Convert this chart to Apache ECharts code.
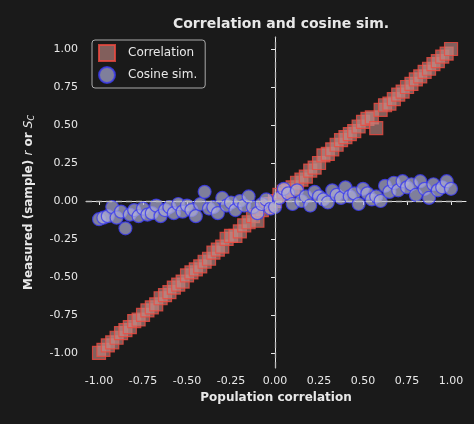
<!DOCTYPE html>
<html>
<head>
<meta charset="utf-8">
<script src="https://cdn.jsdelivr.net/npm/echarts@6/dist/echarts.min.js"></script>
<style>html,body{margin:0;background:#1a1a1a}#main{width:474px;height:424px}</style>
</head>
<body>
<div id="main"></div>
<script>
const popCorr = [
  -1.000,-0.975,-0.950,-0.925,-0.900,-0.875,-0.850,-0.825,-0.800,-0.775,
  -0.750,-0.725,-0.700,-0.675,-0.650,-0.625,-0.600,-0.575,-0.550,-0.525,
  -0.500,-0.475,-0.450,-0.425,-0.400,-0.375,-0.350,-0.325,-0.300,-0.275,
  -0.250,-0.225,-0.200,-0.175,-0.150,-0.125,-0.100,-0.075,-0.050,-0.025,
  0.000,0.025,0.050,0.075,0.100,0.125,0.150,0.175,0.200,0.225,
  0.250,0.275,0.300,0.325,0.350,0.375,0.400,0.425,0.450,0.475,
  0.500,0.525,0.550,0.575,0.600,0.625,0.650,0.675,0.700,0.725,
  0.750,0.775,0.800,0.825,0.850,0.875,0.900,0.925,0.950,0.975,
  1.000
];
const corrValues = [
  -1.00,-0.98,-0.95,-0.93,-0.90,-0.87,-0.85,-0.83,-0.79,-0.78,
  -0.75,-0.72,-0.70,-0.68,-0.64,-0.62,-0.60,-0.57,-0.55,-0.53,
  -0.49,-0.47,-0.45,-0.43,-0.40,-0.38,-0.34,-0.32,-0.30,-0.25,
  -0.23,-0.23,-0.20,-0.16,-0.14,-0.10,-0.13,-0.06,-0.04,-0.02,
  0.00,0.04,0.06,0.07,0.09,0.12,0.14,0.16,0.20,0.22,
  0.25,0.30,0.31,0.34,0.37,0.40,0.42,0.44,0.46,0.49,
  0.52,0.54,0.55,0.48,0.60,0.63,0.64,0.67,0.70,0.72,
  0.75,0.77,0.80,0.82,0.85,0.87,0.90,0.92,0.95,0.97,
  1.00
];
const cosValues = [
  -0.12,-0.11,-0.10,-0.04,-0.11,-0.07,-0.18,-0.09,-0.06,-0.10,
  -0.05,-0.09,-0.08,-0.03,-0.10,-0.06,-0.04,-0.08,-0.02,-0.07,
  -0.03,-0.06,-0.10,-0.02,0.06,-0.05,-0.04,-0.08,0.02,-0.03,
  -0.01,-0.06,0.00,-0.03,0.03,-0.04,-0.08,-0.02,0.01,-0.05,
  -0.04,0.02,0.08,0.05,-0.02,0.07,0.00,0.03,-0.03,0.06,
  0.03,0.01,-0.01,0.07,0.04,0.02,0.09,0.03,0.05,-0.02,
  0.08,0.05,0.01,0.03,0.00,0.10,0.06,0.12,0.07,0.13,
  0.09,0.11,0.04,0.13,0.08,0.02,0.11,0.07,0.09,0.13,
  0.08
];
const tickValues = [-1, -0.75, -0.5, -0.25, 0, 0.25, 0.5, 0.75, 1];

const fg = "#e8e8e8";
const font = "DejaVu Sans";
var myChart = echarts.init(document.getElementById("main"));
myChart.setOption({
  backgroundColor: "#1a1a1a",
  textStyle: { fontFamily: font },
  title: {
    text: "Correlation and cosine sim.",
    left: 276, top: 12, textAlign: "center",
    textStyle: { color: fg, fontSize: 14, fontWeight: "bold", fontFamily: font },
  },
  legend: {
    left: 92, top: 40, orient: "vertical", itemGap: 4,
    backgroundColor: "#1a1a1a", borderColor: "#aaa", borderWidth: 1, borderRadius: 3,
    padding: [4, 8, 4, 6], itemWidth: 16, itemHeight: 16,
    textStyle: { color: fg, fontSize: 12, padding: [0, 0, 0, 8] },
    data: ["Correlation", "Cosine sim."],
  },
  grid: { left: 86, right: 8, top: 37, bottom: 56 },
  xAxis: {
    type: "value", min: -1.074, max: 1.085,
    name: "Population correlation", nameLocation: "middle", nameGap: 22,
    nameTextStyle: { color: fg, fontSize: 12, fontWeight: "bold" },
    axisLine: { lineStyle: { color: fg } },
    axisTick: { show: true, customValues: tickValues, length: 4, lineStyle: { color: fg } },
    axisLabel: { customValues: tickValues, color: fg, fontSize: 11, formatter: v => v.toFixed(2) },
    splitLine: { show: false },
  },
  yAxis: {
    type: "value", min: -1.099, max: 1.079,
    name: "{b|Measured (sample) }{i|r}{b| or }{i|S}{s|C}", nameLocation: "middle", nameGap: 50,
    nameTextStyle: {
      color: fg,
      rich: {
        b: { color: fg, fontSize: 12, fontWeight: "bold", fontFamily: font },
        i: { color: fg, fontSize: 12, fontStyle: "italic", fontFamily: font },
        s: { color: fg, fontSize: 8, fontStyle: "italic", fontFamily: font, verticalAlign: "bottom", padding: [6, 0, 0, 0] },
      },
    },
    axisLine: { show: true, lineStyle: { color: fg } },
    axisTick: { show: true, customValues: tickValues, length: 4, lineStyle: { color: fg } },
    axisLabel: { customValues: tickValues, color: fg, fontSize: 11, formatter: v => v.toFixed(2) },
    splitLine: { show: false },
  },
  series: [
    {
      name: "Correlation", type: "scatter", symbol: "rect", symbolSize: 13,
      data: popCorr.map((x, i) => [x, corrValues[i]]),
      itemStyle: { color: "rgba(190,135,130,0.8)", borderColor: "#f04a40", borderWidth: 1.2, opacity: 0.8 },
      markLine: {
        silent: true, symbol: "none", label: { show: false },
        lineStyle: { color: "#bbb", type: [6, 4], width: 1.3 },
        data: [{ xAxis: 0 }, { yAxis: 0 }],
      },
      z: 2,
    },
    {
      name: "Cosine sim.", type: "scatter", symbol: "circle", symbolSize: 13,
      data: popCorr.map((x, i) => [x, cosValues[i]]),
      itemStyle: { color: "rgba(175,175,215,0.85)", borderColor: "#3a3af0", borderWidth: 1.2, opacity: 0.8 },
      z: 3,
    },
  ],
});
</script>
</body>
</html>
